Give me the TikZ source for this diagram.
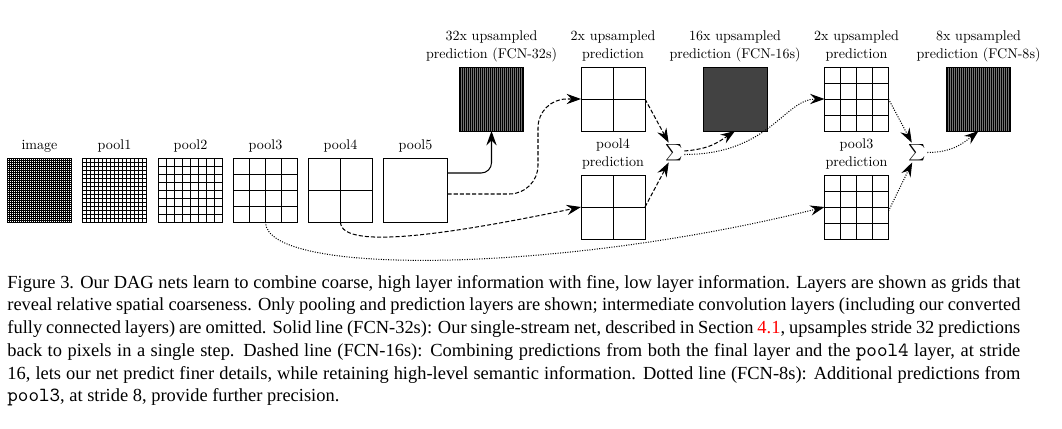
\documentclass[tikz,border=0pt]{standalone}
\usepackage{fontspec}
\newfontfamily\capfont{Liberation Serif}
\usetikzlibrary{arrows.meta,calc}
\newlength\upx
\setlength\upx{0.4878pt}
\newcommand\lbl[1]{\scalebox{0.685}{\fontsize{10}{12.6}\selectfont\begin{tabular}[t]{@{}c@{}}#1\end{tabular}}}
\newcommand\sigmasym{\scalebox{0.8}{\fontsize{10}{12}\selectfont$\sum$}}
\newcommand\captt[1]{{\ttfamily\fontsize{9.8}{11.1}\selectfont #1}}
\newcommand\gbox[5]{%
  \node[cell] (#1) at (#2,#3) {};
  \pgfmathtruncatemacro\gblast{#4-1}
  \foreach \k in {1,...,\gblast}{
    \draw[gl,#5] ({#2-32+\k*64/#4},{#3-32}) -- ++(0,64);
    \draw[gl,#5] ({#2-32},{#3-32+\k*64/#4}) -- ++(64,0);
  }}
\newcommand\stripebox[2]{%
  \node[cell,fill=black] (#1) at (#2,99) {};
  \foreach \k in {1,...,31}{
    \draw[line width=0.3pt,black!55] ({#2-32+\k*2},67) -- ++(0,64);
  }
  \node[cell] at (#1.center) {};}
\tikzset{
  cell/.style={draw=black,line width=0.45pt,minimum size=64\upx,inner sep=0pt,outer sep=0pt},
  gl/.style={line width=0.45pt},
  lab/.style={anchor=base,inner sep=0pt,outer sep=0pt},
  sig/.style={inner sep=0.6pt},
  con/.style={line width=0.5pt,-{Stealth[length=7pt,width=5pt,inset=2.4pt]}},
  dsh/.style={con,dash pattern=on 2pt off 1pt},
  dtt/.style={con,dash pattern=on 0.5pt off 0.7pt},
}
\begin{document}
\begin{tikzpicture}[x=0.4878pt,y=-0.4878pt]
\useasboundingbox (0,0) rectangle (1062,429);
% bottom row
\gbox{img}{39.5}{190}{32}{line width=0.33pt}
\gbox{p1}{114.5}{190}{16}{}
\gbox{p2}{190.5}{190}{8}{}
\gbox{p3}{265.5}{190}{4}{}
\gbox{p4}{340.5}{190}{2}{}
\node[cell] (p5) at (415.5,190) {};
% top row
\stripebox{u32}{491.5}
\gbox{u2a}{613}{99}{2}{}
\node[cell,fill=black!74] (u16) at (735,99) {};
\gbox{u2b}{856.5}{99}{4}{}
\stripebox{u8}{978.5}
% prediction boxes
\gbox{p4p}{613}{207}{2}{}
\gbox{p3p}{856.5}{207}{4}{}
% sums
\node[sig] (s1) at (674,152.5) {\sigmasym};
\node[sig] (s2) at (917,152.5) {\sigmasym};
% labels
\node[lab] (limg) at (39.5,149) {\lbl{image}};
\node[lab] (lp1) at (114.5,149) {\lbl{pool1}};
\node[lab] (lp2) at (190.5,149) {\lbl{pool2}};
\node[lab] (lp3) at (265.5,149) {\lbl{pool3}};
\node[lab] (lp4) at (340.5,149) {\lbl{pool4}};
\node[lab] (lp5) at (415.5,149) {\lbl{pool5}};
\node[lab] (lu32) at (491.5,41) {\lbl{32x upsampled\\prediction (FCN-32s)}};
\node[lab] (lu2a) at (613,41) {\lbl{2x upsampled\\prediction}};
\node[lab] (lu16) at (735,41) {\lbl{16x upsampled\\prediction (FCN-16s)}};
\node[lab] (lu2b) at (856.5,41) {\lbl{2x upsampled\\prediction}};
\node[lab] (lu8) at (978.5,41) {\lbl{8x upsampled\\prediction (FCN-8s)}};
\node[lab] (lp4p) at (613,148.5) {\lbl{pool4\\prediction}};
\node[lab] (lp3p) at (856.5,148.5) {\lbl{pool3\\prediction}};
% corner of the dashed S-curve
\coordinate (bend) at ($(u2a.west)+(-43,0)$);
% solid
\draw[con,rounded corners=5pt] ($(p5.east)+(0,-17)$) -| (u32.south);
% dashed
\draw[dsh,rounded corners=14pt] ($(p5.east)+(0,4)$) -| (bend) -- (u2a.west);
\draw[dsh] (p4.south) .. controls +(0,30) and +(-120,25) .. (p4p.west);
\draw[dsh] (u2a.east) -- (s1);
\draw[dsh] (p4p.east) -- (s1);
\draw[dsh] ($(s1.east)+(0,-1.5)$) .. controls +(25,-2) and +(-18,12) .. (u16.south);
% dotted
\draw[dtt] (p3.south) .. controls +(0,55) and +(-264,66) .. (p3p.west);
\draw[dtt] ($(s1.east)+(0,2)$) .. controls +(85,0) and +(-40,0) .. (u2b.west);
\draw[dtt] (u2b.east) -- (s2);
\draw[dtt] ($(p3p.east)+(0,4)$) -- (s2);
\draw[dtt] (s2.east) .. controls +(25,0) and +(-15,12) .. (u8.south);
% caption
\node[anchor=base west,inner sep=0pt,text width=1013\upx,align=justify,
  font=\capfont\fontsize{9}{11.1}\selectfont] (cap) at (7,288)
{Figure 3. Our DAG nets learn to combine coarse, high layer information with fine, low layer information. Layers are shown as grids that reveal relative spatial coarseness. Only pooling and prediction layers are shown; intermediate convolution layers (including our converted fully connected layers) are omitted. Solid line (FCN-32s): Our single-stream net, described in Section \textcolor{red}{4.1}, upsamples stride 32 predictions back to pixels in a single step. Dashed line (FCN-16s): Combining predictions from both the final layer and the \captt{pool4} layer, at stride 16, lets our net predict finer details, while retaining high-level semantic information. Dotted line (FCN-8s): Additional predictions from \captt{pool3}, at stride 8, provide further precision.};
\end{tikzpicture}
\end{document}
